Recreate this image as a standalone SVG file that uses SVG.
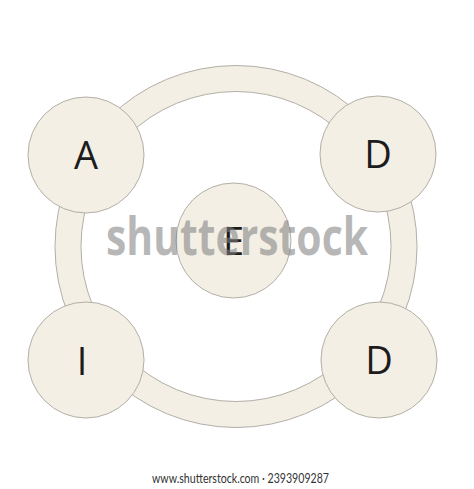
<svg xmlns="http://www.w3.org/2000/svg" width="474" height="489" viewBox="0 0 474 489">
<style>
.node{fill:#f4efe5;stroke:#b3aea6;stroke-width:1}
.lbl{font-family:"Open Sans","Noto Sans",sans-serif;font-size:38px;fill:#1c1c1c;text-anchor:middle}
.ringline{fill:none;stroke:#b3aea6;stroke-width:1}
</style>
<rect width="474" height="489" fill="#ffffff"/>
<g id="connectors">
<circle cx="236" cy="246.5" r="168" fill="none" stroke="#f4efe5" stroke-width="26"/>
<circle class="ringline" cx="236" cy="246.5" r="181"/>
<circle class="ringline" cx="236" cy="246.5" r="155"/>
</g>
<g id="node-A"><circle class="node" cx="86" cy="155" r="58"/><text class="lbl" x="86" y="169">A</text></g>
<g id="node-D1"><circle class="node" cx="378" cy="154" r="58"/><text class="lbl" x="378" y="168">D</text></g>
<g id="node-E"><circle class="node" cx="233.5" cy="240.5" r="57.5"/><text class="lbl" x="233.5" y="255">E</text></g>
<g id="node-I"><circle class="node" cx="86" cy="360" r="58"/><text class="lbl" x="82" y="375">I</text></g>
<g id="node-D2"><circle class="node" cx="379" cy="360" r="58"/><text class="lbl" x="379" y="374">D</text></g>
<text x="106" y="255" font-family="'Open Sans','Noto Sans',sans-serif" font-weight="bold" font-size="52" fill="#808080" fill-opacity="0.56" textLength="262" lengthAdjust="spacingAndGlyphs">shutterstock</text>
<text x="152" y="483" font-family="Lato,'Noto Sans',sans-serif" font-size="12.5" fill="#333333" textLength="177" lengthAdjust="spacingAndGlyphs">www.shutterstock.com · 2393909287</text>
</svg>
